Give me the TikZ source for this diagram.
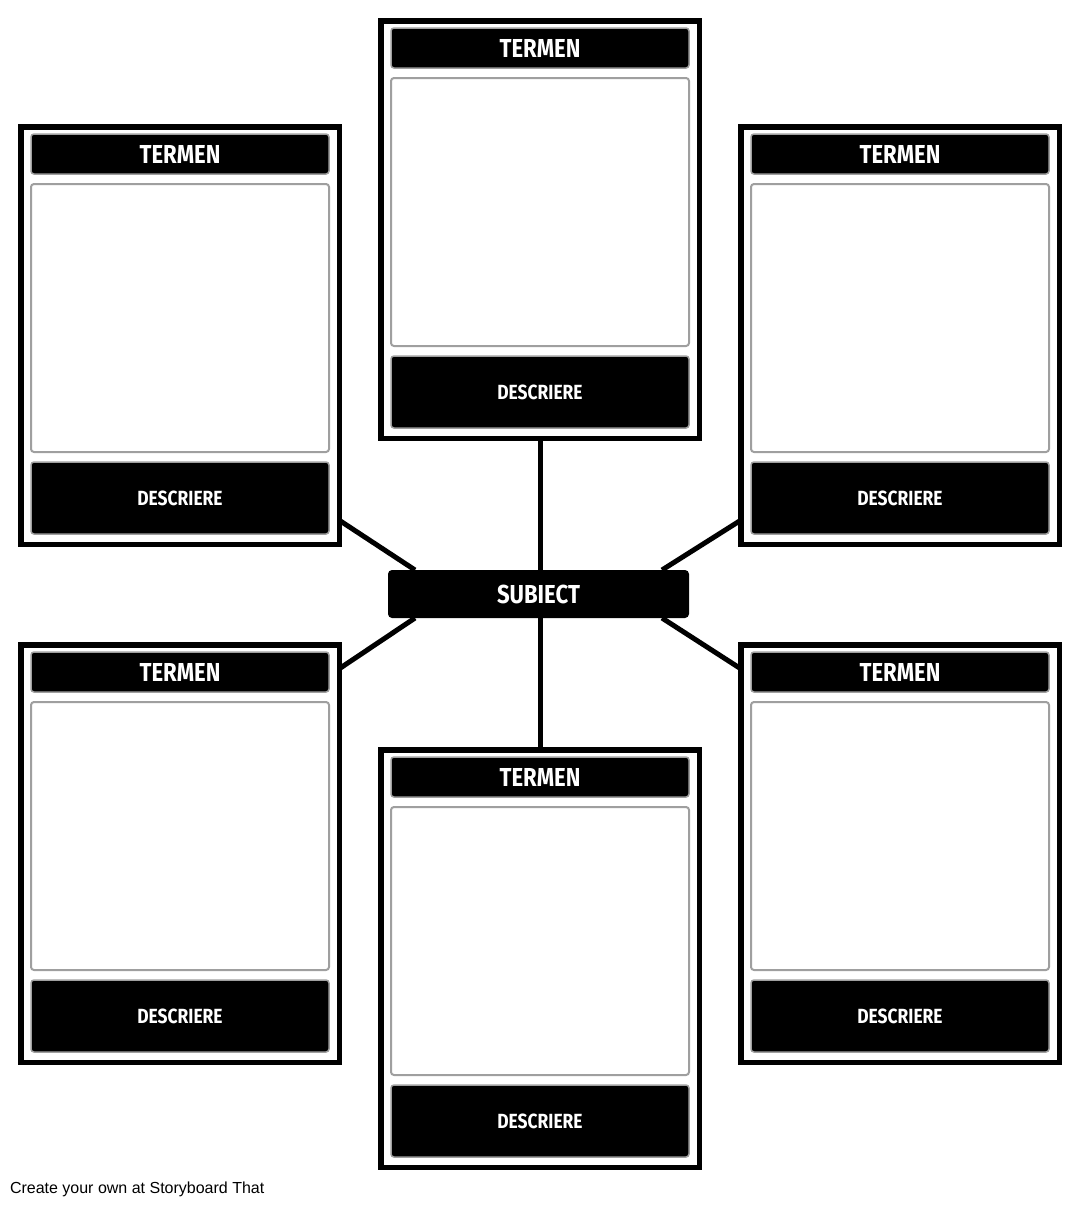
\documentclass[tikz,border=0pt]{standalone}
\usepackage{fontspec}
\setmainfont{Liberation Sans}
\newfontfamily\cardfont{Fira Sans}[FakeStretch=0.85]
\usepackage{tikz}
\usetikzlibrary{positioning}

\begin{document}
\begin{tikzpicture}[x=1pt,y=1pt,outer sep=0pt,node distance=10pt]
                \tikzset{card/.style={draw, line width=5.5pt, minimum width=318.5pt, minimum height=417.5pt, inner sep=0pt},
                         termen/.style={fill=black, draw=gray!75, line width=1.5pt, rounded corners=3pt, minimum width=298pt, minimum height=40pt, inner sep=0pt, text=white, font=\cardfont\bfseries\fontsize{26}{30}\selectfont},
                         imgbox/.style={fill=white, draw=gray!75, line width=2pt, rounded corners=3pt, minimum width=298pt, minimum height=268pt, inner sep=0pt},
                         descr/.style={fill=black, draw=gray!75, line width=1.5pt, rounded corners=3pt, minimum width=298pt, minimum height=72pt, inner sep=0pt, text=white, font=\cardfont\bfseries\fontsize{20.5}{24}\selectfont},
                         subject/.style={fill=black, rounded corners=4pt, minimum width=301pt, minimum height=48pt, inner sep=0pt, text=white, font=\cardfont\bfseries\fontsize{26}{30}\selectfont},
                         link/.style={line width=5pt}}

                \useasboundingbox (0,0) rectangle (1081,-1208);

                \node[card] (TL) at (180,-335.5) {};
                \node[termen, below=7.25pt of TL.north] (TLt) {TERMEN};
                \node[imgbox, below=of TLt] (TLi) {};
                \node[descr, below=of TLi] (TLd) {DESCRIERE};

                \node[card] (TM) at (540,-229.5) {};
                \node[termen, below=7.25pt of TM.north] (TMt) {TERMEN};
                \node[imgbox, below=of TMt] (TMi) {};
                \node[descr, below=of TMi] (TMd) {DESCRIERE};

                \node[card] (TR) at (900,-335.5) {};
                \node[termen, below=7.25pt of TR.north] (TRt) {TERMEN};
                \node[imgbox, below=of TRt] (TRi) {};
                \node[descr, below=of TRi] (TRd) {DESCRIERE};

                \node[card] (BL) at (180,-853.5) {};
                \node[termen, below=7.25pt of BL.north] (BLt) {TERMEN};
                \node[imgbox, below=of BLt] (BLi) {};
                \node[descr, below=of BLi] (BLd) {DESCRIERE};

                \node[card] (BM) at (540,-958.5) {};
                \node[termen, below=7.25pt of BM.north] (BMt) {TERMEN};
                \node[imgbox, below=of BMt] (BMi) {};
                \node[descr, below=of BMi] (BMd) {DESCRIERE};

                \node[card] (BR) at (900,-853.5) {};
                \node[termen, below=7.25pt of BR.north] (BRt) {TERMEN};
                \node[imgbox, below=of BRt] (BRi) {};
                \node[descr, below=of BRi] (BRd) {DESCRIERE};

                \node[subject] (S) at (538.5,-594) {SUBIECT};

                \path[link] (TM.south) edge (S.north -| TM.south);
                \path[link] (BM.north) edge (S.south -| BM.north);
                \path[link] ([yshift=24pt]TL.south east) edge ([xshift=27pt]S.north west);
                \path[link] ([yshift=-24pt]BL.north east) edge ([xshift=27pt]S.south west);
                \path[link] ([yshift=24pt]TR.south west) edge ([xshift=-27pt]S.north east);
                \path[link] ([yshift=-24pt]BR.north west) edge ([xshift=-27pt]S.south east);

                \node[anchor=west, inner sep=0pt, font=\fontsize{16}{19}\selectfont] (credit) at (10,-1189) {Create your own at Storyboard That};
            \end{tikzpicture}
\end{document}
